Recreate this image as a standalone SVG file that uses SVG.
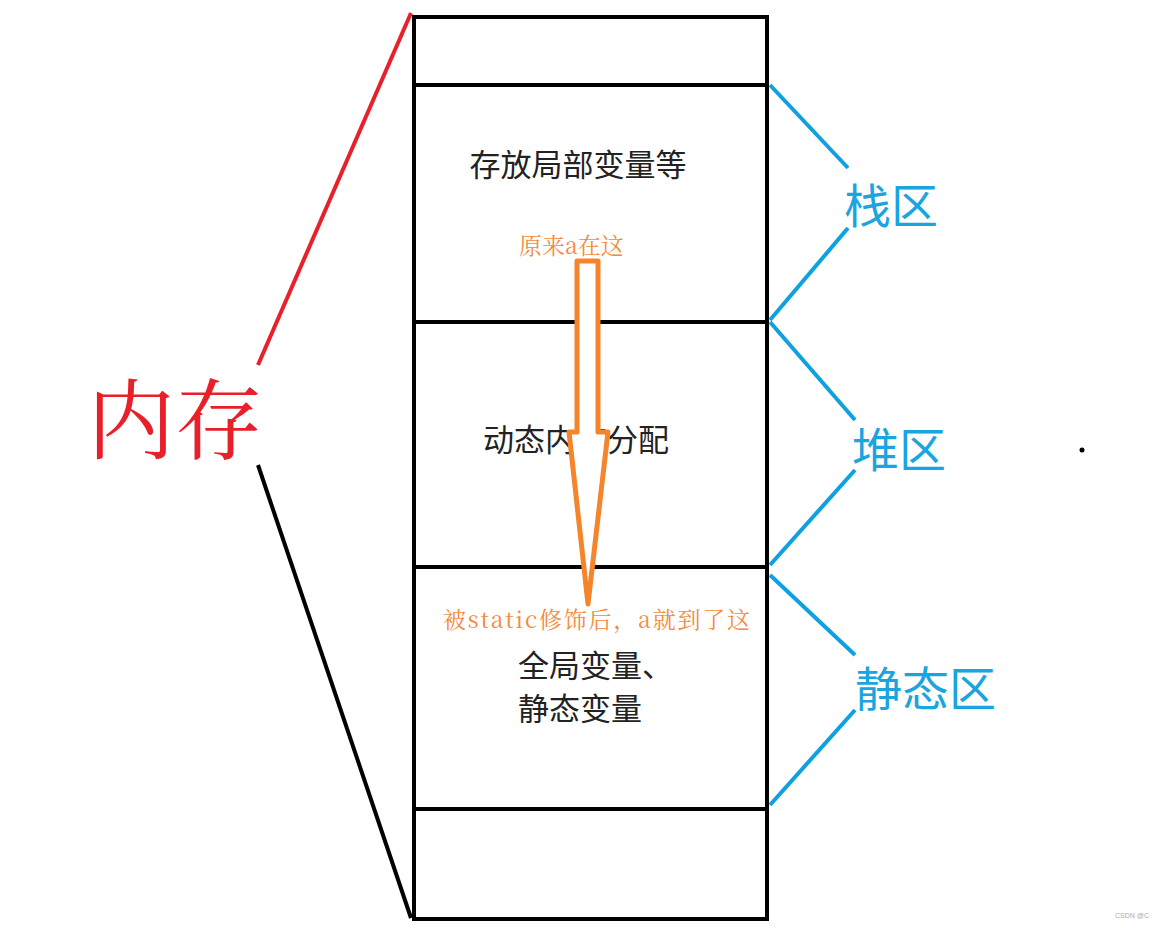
<svg xmlns="http://www.w3.org/2000/svg" width="1162" height="928" viewBox="0 0 1162 928">
<style>
.box{fill:none;stroke:#000;stroke-width:4}
.blue{stroke:#0ea1e2;stroke-width:4;fill:none}
.bt{fill:#1aa4e0;font-family:"Noto Sans CJK SC",sans-serif;font-size:47px}
.t{fill:#222;font-family:"Noto Sans CJK SC",sans-serif;font-size:31px}
.o{fill:#f58a3c;font-family:"Noto Serif CJK SC","Noto Sans CJK SC",serif;font-size:23px}
</style>
<rect width="1162" height="928" fill="#fff"/>
<g id="memory">
<rect class="box" x="414" y="17" width="353" height="902"/>
<line class="box" x1="414" y1="85" x2="767" y2="85"/>
<line class="box" x1="414" y1="322" x2="767" y2="322"/>
<line class="box" x1="414" y1="567" x2="767" y2="567"/>
<line class="box" x1="414" y1="809" x2="767" y2="809"/>
<text class="t" x="578" y="176" text-anchor="middle">存放局部变量等</text>
<text class="t" x="576" y="451" text-anchor="middle">动态内存分配</text>
<text class="t" x="518" y="677">全局变量、</text>
<text class="t" x="518" y="720">静态变量</text>
</g>
<g id="connectors">
<line x1="411" y1="13" x2="258" y2="365" stroke="#e8202a" stroke-width="4"/>
<line x1="411" y1="918" x2="258" y2="465" stroke="#000" stroke-width="4"/>
<polyline class="blue" points="770,85 848,168"/>
<polyline class="blue" points="848,228 770,320"/>
<polyline class="blue" points="770,322 855,420"/>
<polyline class="blue" points="855,470 770,565"/>
<polyline class="blue" points="770,575 855,655"/>
<polyline class="blue" points="855,710 770,805"/>
<polygon points="577,261 598,261 598,432 608,432 588,604 569,432 577,432" fill="#fff" stroke="#f5842a" stroke-width="5" stroke-linejoin="round"/>
</g>
<text x="175" y="452" text-anchor="middle" fill="#e8202a" font-family="'Noto Serif CJK SC','Noto Sans CJK SC',serif" font-size="88">内存</text>
<text class="bt" x="844" y="223">栈区</text>
<text class="bt" x="852" y="467">堆区</text>
<text class="bt" x="855" y="706">静态区</text>
<text class="o" x="519" y="254">原来a在这</text>
<text class="o" x="443" y="628" textLength="307">被static修饰后，a就到了这</text>
<circle cx="1082" cy="450" r="2.5" fill="#000"/>
<text x="1115" y="918" font-family="Liberation Sans,sans-serif" font-size="7" fill="#aaa">CSDN @C</text>
</svg>
